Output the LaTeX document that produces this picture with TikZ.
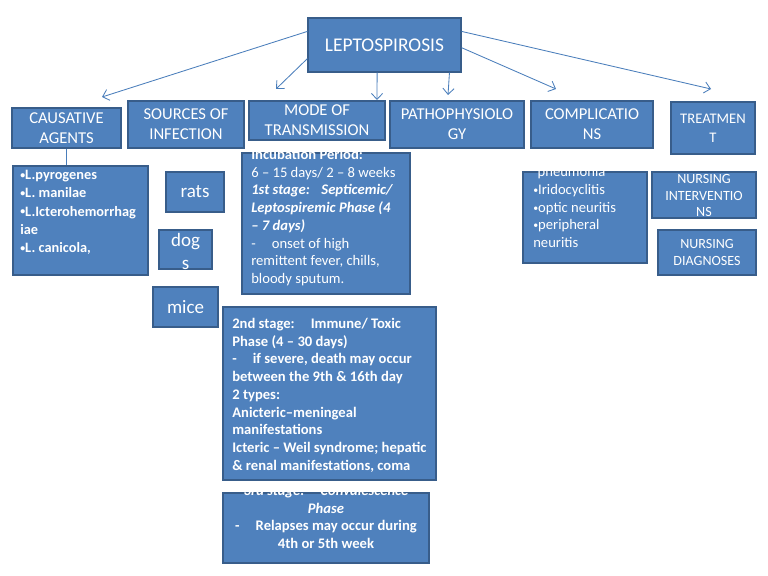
\documentclass[tikz,border=0pt]{standalone}
\usepackage{fontspec}
\setmainfont{Carlito}
\usetikzlibrary{arrows.meta, shadows}
\definecolor{boxblue}{HTML}{4F81BD}
\definecolor{boxline}{HTML}{385D8A}
\definecolor{linkblue}{HTML}{4A7EBB}
\newcommand{\bul}{{\fontsize{7}{7}\selectfont\raisebox{0.25ex}{•}}}

\begin{document}
\begin{tikzpicture}[x=0.025cm, y=-0.025cm,
    box/.style={draw=boxline, fill=boxblue, line width=0.8pt, inner sep=0pt, text=white, align=center, drop shadow={opacity=0.3, shadow xshift=0.8pt, shadow yshift=-0.8pt}},
    head/.style={box, font=\fontsize{11.8}{14}\selectfont},
    body/.style={text=white, inner sep=0pt, align=left, font=\fontsize{10.4}{12.6}\selectfont},
    animal/.style={box, font=\fontsize{13.5}{16.4}\selectfont},
    link/.style={draw=linkblue, line width=0.6pt, -{Straight Barb[length=1.5mm, width=2.8mm]}},
]
\fill[white] (0,0) rectangle (768,576);
\useasboundingbox (0,0) rectangle (768,576);

% Root
\node[box, minimum width=3.825cm, minimum height=1.35cm, font=\fontsize{13.8}{16}\selectfont] (lepto) at (384.5,45) {LEPTOSPIROSIS};

% Headers
\node[head, minimum width=2.725cm, minimum height=1cm] (cause) at (66.5,128) {CAUSATIVE\\AGENTS};
\node[head, minimum width=2.9cm, minimum height=1.175cm] (source) at (186,124.5) {SOURCES OF\\INFECTION};
\node[head, minimum width=3.4cm, minimum height=0.975cm] (mode) at (317,120.5) {MODE OF\\TRANSMISSION};
\node[head, minimum width=3.35cm, minimum height=1.175cm] (patho) at (457,124.5) {PATHOPHYSIOLO\\GY};
\node[head, minimum width=3.05cm, minimum height=1.175cm] (compl) at (592,124.5) {COMPLICATIO\\NS};
\node[box, minimum width=2.1cm, minimum height=1.3cm, font=\fontsize{10.4}{13.5}\selectfont] (treat) at (713,128) {TREATMEN\\T};

% Arrows from the root
\coordinate (toCause) at (102,97);
\coordinate (toSource) at (276,89);
\coordinate (toMode) at (377,100);
\coordinate (toPatho) at (448,95);
\coordinate (toCompl) at (556,89);
\coordinate (toTreat) at (711,89);
\draw[link] (lepto.170) -- (toCause);
\draw[link] (lepto.190) -- (toSource);
\draw[link] (lepto.255) -- (toMode);
\draw[link] (lepto.337) -- (toPatho);
\draw[link] (lepto.358) -- (toCompl);
\draw[link] (lepto.10) -- (toTreat);

% Causative agents
\node[box, minimum width=3.375cm, minimum height=2.725cm] (agents) at (80.5,220.5) {};
\node[body, font=\bfseries\fontsize{10.2}{13}\selectfont, anchor=north west] (agentstxt) at (20,170) {\bul L.pyrogenes\\\bul L. manilae\\\bul L.Icterohemorrhag\\iae\\\bul L. canicola,};
\draw[draw=linkblue, line width=0.7pt] (cause.south) -- (cause.south |- agents.north);

% Sources of infection
\node[animal, minimum width=1.45cm, minimum height=1cm] (rats) at (195,192) {rats};
\node[box, minimum width=1.325cm, minimum height=0.975cm] (dogs) at (185.5,249.5) {};
\node[text=white, align=center, inner sep=0pt, font=\fontsize{13.5}{16.4}\selectfont] (dogstxt) at (185.5,251.5) {dog\\s};
\node[animal, minimum width=1.625cm, minimum height=1cm] (mice) at (185.5,307) {mice};

% Mode of transmission - stages
\node[box, minimum width=4.2cm, minimum height=3.525cm] (incub) at (326,223.5) {};
\begin{scope}
\clip (incub.south west) rectangle (incub.north east);
\node[body, anchor=north west] (incubtxt) at (251,149) {\textbf{Incubation Period:}\\6 – 15 days/ 2 – 8 weeks\\\textbf{\textit{1st stage:\hspace{0.8em}Septicemic/}}\\\textbf{\textit{Leptospiremic Phase (4}}\\\textbf{\textit{– 7 days)}}\\-\hspace{1.1em}onset of high\\remittent fever, chills,\\bloody sputum.};
\end{scope}
\node[box, minimum width=5.325cm, minimum height=4.325cm] (stage2) at (329.5,393.5) {};
\node[body, font=\bfseries\fontsize{10.4}{12.6}\selectfont, anchor=north west] (stage2txt) at (232,318) {2nd stage:\hspace{1.1em}Immune/ Toxic\\Phase (4 – 30 days)\\-\hspace{1.1em}if severe, death may occur\\between the 9th \& 16th day\\2 types:\\Anicteric–meningeal\\manifestations\\Icteric – Weil syndrome; hepatic\\\& renal manifestations, coma};
\node[box, minimum width=5.15cm, minimum height=1.75cm] (stage3) at (326,528) {};
\begin{scope}
\clip (stage3.south west) rectangle (stage3.north east);
\node[body, font=\bfseries\fontsize{10.4}{12.6}\selectfont, align=center, anchor=north] (stage3txt) at (326,485) {\textit{3rd stage:\hspace{1.1em}Convalescence}\\\textit{Phase}\\-\hspace{1.1em}Relapses may occur during\\4th or 5th week};
\end{scope}

% Complications
\node[box, minimum width=3.1cm, minimum height=2.275cm] (compllist) at (585,217.5) {};
\begin{scope}
\clip (compllist.south west) rectangle (compllist.north east);
\node[body, anchor=north west] (compltxt) at (533,166.5) {\hspace{0.3em}pneumonia\\\bul Iridocyclitis\\\bul optic neuritis\\\bul peripheral\\neuritis};
\end{scope}

% Treatment
\node[box, minimum width=2.6cm, minimum height=1.15cm] (nint) at (704,195) {};
\node[text=white, align=center, inner sep=0pt, font=\fontsize{10}{12}\selectfont] (ninttxt) at (704,195.5) {NURSING\\INTERVENTIO\\NS};
\node[box, minimum width=2.45cm, minimum height=1.125cm, font=\fontsize{10}{12}\selectfont] (ndiag) at (707,252.5) {NURSING\\DIAGNOSES};
\end{tikzpicture}
\end{document}
